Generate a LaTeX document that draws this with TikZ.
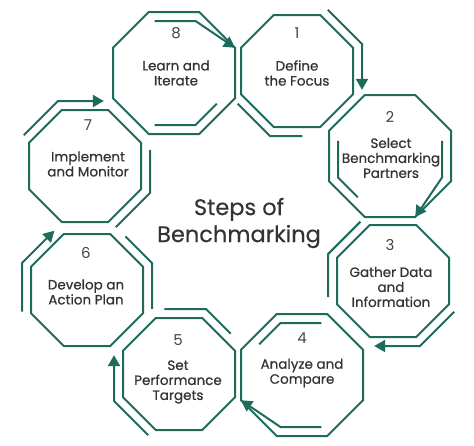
\documentclass[tikz,border=0pt]{standalone}
\usepackage{fontspec}
\setmainfont{Poppins}
\newfontfamily\labfont{Poppins}[FakeBold=0.6]
\newfontfamily\ttlfont{Poppins}[FakeBold=0.3]
\usetikzlibrary{calc,arrows.meta}
\definecolor{tealline}{HTML}{1E6B5C}
\definecolor{txtc}{HTML}{333333}
\definecolor{numc}{HTML}{444444}
\newcommand{\mkoct}[5]{%
  \coordinate (#1) at (#2,-#3);
  \foreach \k in {0,...,7}{%
    \coordinate (#1f\k) at ($(#1)+({22.5+45*\k}:{#4/cos(22.5)})$);
    \coordinate (#1t\k) at ($(#1)+({22.5+45*\k}:{#5/cos(22.5)})$);
  }%
}
\newcommand{\fulloct}[1]{\draw[oct] (#1f0)--(#1f1)--(#1f2)--(#1f3)--(#1f4)--(#1f5)--(#1f6)--(#1f7)--cycle;}
\begin{document}
\begin{tikzpicture}[x=1pt,y=1pt,
  oct/.style={draw=tealline,line width=2pt,line join=miter},
  trk/.style={draw=tealline,line width=2pt,line join=miter},
  arr/.style={-{Triangle[length=11pt,width=12pt]}},
  lab/.style={font=\labfont\fontsize{13.5}{15}\selectfont,align=center,text=txtc},
  num/.style={font=\fontsize{15}{15}\selectfont,text=numc},
  ttl/.style={font=\ttlfont\fontsize{22.5}{27}\selectfont,align=center,text=txtc}]
\useasboundingbox (0,0) rectangle (474,-445);
\fill[white] (0,0) rectangle (474,-445);

\mkoct{c8}{174}{73}{61}{52}
\mkoct{c1}{297}{71}{56}{65}
\mkoct{c2}{390}{156}{61}{52}
\mkoct{c3}{393}{281}{56}{65}
\mkoct{c4}{302}{375}{61}{52}
\mkoct{c5}{179}{374}{56}{65}
\mkoct{c6}{87}{290}{56}{65}
\mkoct{c7}{85}{166}{56}{65}

\fulloct{c8}\fulloct{c1}\fulloct{c2}\fulloct{c3}
\fulloct{c4}\fulloct{c5}\fulloct{c6}\fulloct{c7}

% step 8 (inner track)
\draw[trk,arr] ($(c8t2)!0.05!(c8t1)$) -- (c8t1) -- (c8f0);
\draw[trk] ($(c8t5)!0.05!(c8t6)$) -- (c8t6) -- ($(c8t6)!0.7!(c8t7)$);
% step 1 (outer track)
\draw[trk,arr] ($(c1t1)!0.1!(c1t0)$) -- (c1t0) -- ($(c1t0)!0.85!(c1t7)$);
\draw[trk] ($(c1t4)!0.15!(c1t5)$) -- (c1t5) -- ($(c1t5)!0.6!(c1t6)$);
% step 2 (inner track)
\draw[trk,arr] ($(c2t0)!0.15!(c2t7)$) -- (c2t7) -- (c2f6);
\draw[trk] ($(c2t3)!0.15!(c2t4)$) -- (c2t4) -- ($(c2t4)!0.65!(c2t5)$);
% step 3 (outer track)
\draw[trk,arr] ($(c3t7)!0.1!(c3t6)$) -- (c3t6) -- ($(c3t6)!0.85!(c3t5)$);
\draw[trk] ($(c3t2)!0.15!(c3t3)$) -- (c3t3) -- ($(c3t3)!0.8!(c3t4)$);
% step 4 (inner track)
\draw[trk,arr] ($(c4t6)!0.05!(c4t5)$) -- (c4t5) -- (c4f4);
\draw[trk] ($(c4t1)!0.05!(c4t2)$) -- (c4t2) -- ($(c4t2)!0.7!(c4t3)$);
% step 5 (outer track)
\draw[trk,arr] ($(c5t5)!0.1!(c5t4)$) -- (c5t4) -- ($(c5t4)!0.85!(c5t3)$);
\draw[trk] ($(c5t1)!0.65!(c5t0)$) -- (c5t1) -- ($(c5t1)!0.77!(c5t2)$);
% step 6 (outer track)
\draw[trk,arr] ($(c6t4)!0.1!(c6t3)$) -- (c6t3) -- ($(c6t3)!0.85!(c6t2)$);
\draw[trk] ($(c6t1)!0.3!(c6t0)$) -- (c6t0) -- ($(c6t0)!0.85!(c6t7)$);
% step 7 (outer track)
\draw[trk,arr] ($(c7t3)!0.1!(c7t2)$) -- (c7t2) -- ($(c7t2)!0.85!(c7t1)$);
\draw[trk] ($(c7t0)!0.2!(c7t7)$) -- (c7t7) -- ($(c7t7)!0.9!(c7t6)$);

% texts
\node[num] (n8) at (176,-33) {8};
\node[lab] (l8) at (176,-73) {Learn and\\Iterate};
\node[num] (n1) at (297,-33) {1};
\node[lab] (l1) at (297,-73) {Define\\the Focus};
\node[num] (n2) at (390,-117) {2};
\node[lab] (l2) at (391,-158) {Select\\Benchmarking\\Partners};
\node[num] (n3) at (390,-245) {3};
\node[lab] (l3) at (391,-287) {Gather Data\\and\\Information};
\node[num] (n4) at (302,-338) {4};
\node[lab] (l4) at (302,-373) {Analyze and\\Compare};
\node[num] (n5) at (178,-340) {5};
\node[lab] (l5) at (178,-382) {Set\\Performance\\Targets};
\node[num] (n6) at (86,-253) {6};
\node[lab] (l6) at (86,-292) {Develop an\\Action Plan};
\node[num] (n7) at (88,-125) {7};
\node[lab] (l7) at (88,-164) {Implement\\and Monitor};
\node[ttl] (title) at (239,-223) {Steps of\\Benchmarking};
\end{tikzpicture}
\end{document}
